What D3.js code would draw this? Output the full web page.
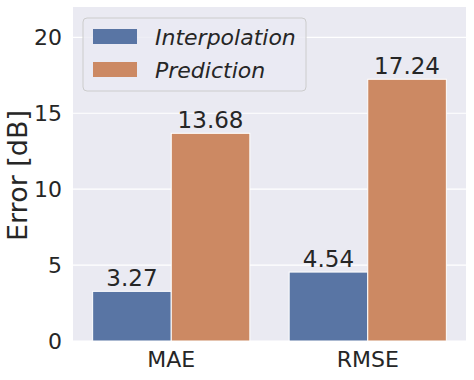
<!DOCTYPE html>
<html>
<head>
<meta charset="utf-8">
<script src="https://cdn.jsdelivr.net/npm/d3@7"></script>
<style>
  body { margin: 0; background: #fff; }
  text { font-family: "DejaVu Sans", sans-serif; fill: #262626; }
</style>
</head>
<body>
<div id="chart"></div>
<script>
// data
var metrics = ["MAE", "RMSE"];
var methods = ["Interpolation", "Prediction"];
var interpolation = [3.27, 4.54];
var prediction = [13.68, 17.24];
var yTicks = [0, 5, 10, 15, 20];

var colors = ["#5975a4", "#cc8963"];

// set the dimensions and margins of the graph
var margin = {top: 7, right: 8, bottom: 39, left: 73},
    width = 474 - margin.left - margin.right,
    height = 380 - margin.top - margin.bottom;

var svg = d3.select("#chart").append("svg")
    .attr("width", 474)
    .attr("height", 380)
  .append("g")
    .attr("transform", "translate(" + margin.left + "," + margin.top + ")");

var x0 = d3.scaleBand().domain(metrics).range([0, width]).paddingInner(0.2).paddingOuter(0.1);
var x1 = d3.scaleBand().domain(methods).range([0, x0.bandwidth()]);
var y = d3.scaleLinear().domain([0, 22]).range([height, 0]);

// background + grid
svg.append("rect").attr("width", width).attr("height", height).attr("fill", "#eaeaf2");
svg.selectAll(".grid").data(yTicks).enter().append("line")
    .attr("x1", 0).attr("x2", width)
    .attr("y1", function(d) { return y(d); })
    .attr("y2", function(d) { return y(d); })
    .attr("stroke", "#fff").attr("stroke-width", 1.2);

// bars
var rows = metrics.map(function(m, i) {
  return [{m: m, k: methods[0], v: interpolation[i], c: colors[0]},
          {m: m, k: methods[1], v: prediction[i], c: colors[1]}];
});
var flat = [].concat.apply([], rows);

svg.selectAll(".bar").data(flat).enter().append("rect")
    .attr("x", function(d) { return x0(d.m) + x1(d.k); })
    .attr("width", x1.bandwidth())
    .attr("y", function(d) { return y(d.v); })
    .attr("height", function(d) { return y(0) - y(d.v); })
    .attr("fill", function(d) { return d.c; })
    .attr("stroke", "#fff").attr("stroke-width", 1);

svg.selectAll(".val").data(flat).enter().append("text")
    .attr("x", function(d) { return x0(d.m) + x1(d.k) + x1.bandwidth() / 2; })
    .attr("y", function(d) { return y(d.v) - 5; })
    .attr("text-anchor", "middle")
    .style("font-size", "23px")
    .text(function(d) { return d.v.toFixed(2); });

// axes
var yAxis = svg.append("g")
    .call(d3.axisLeft(y).tickValues(yTicks).tickSize(0).tickPadding(11));
yAxis.select(".domain").remove();
yAxis.selectAll("text").style("font-size", "22px").attr("fill", "#262626");

var xAxis = svg.append("g")
    .attr("transform", "translate(0," + height + ")")
    .call(d3.axisBottom(x0).tickSize(0).tickPadding(10));
xAxis.select(".domain").remove();
xAxis.selectAll("text").style("font-size", "22px").attr("fill", "#262626");

svg.append("text")
    .attr("transform", "rotate(-90)")
    .attr("x", -(175.5 - margin.top))
    .attr("y", 27 - margin.left)
    .attr("text-anchor", "middle")
    .style("font-size", "27px")
    .text("Error [dB]");

// legend
var legend = svg.append("g").attr("transform", "translate(10,11)");
legend.append("rect")
    .attr("width", 223).attr("height", 73).attr("rx", 4)
    .attr("fill", "#eaeaf2").attr("fill-opacity", 0.8)
    .attr("stroke", "#cccccc").attr("stroke-width", 1);
methods.forEach(function(k, i) {
  legend.append("rect")
      .attr("x", 10).attr("y", 11 + i * 33)
      .attr("width", 44).attr("height", 15)
      .attr("fill", colors[i]);
  legend.append("text")
      .attr("x", 72).attr("y", 27 + i * 33)
      .style("font-size", "22px")
      .style("font-style", "italic")
      .text(k);
});
</script>
</body>
</html>
